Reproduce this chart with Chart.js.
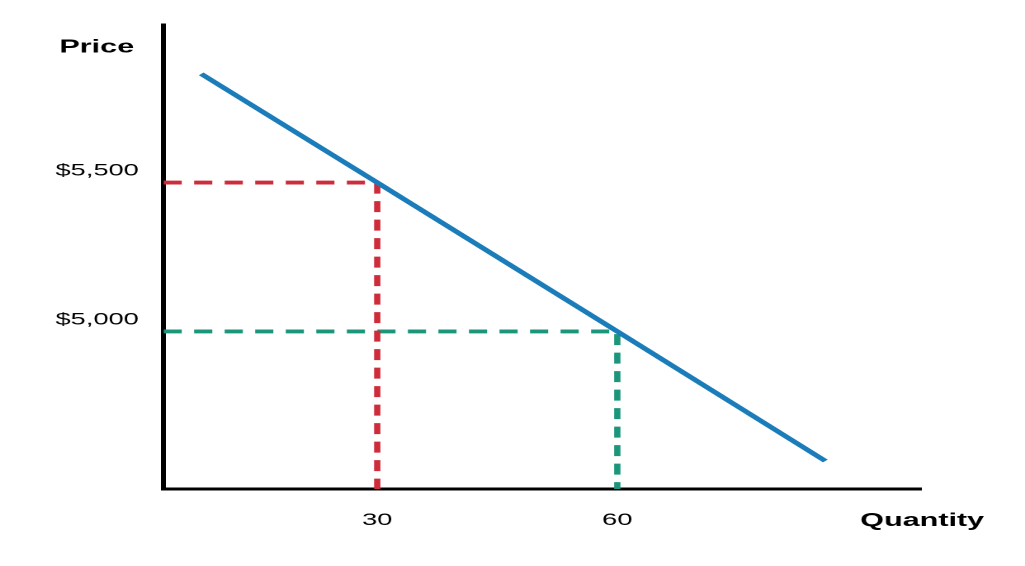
<!DOCTYPE html>
<html>
<head>
<meta charset="utf-8">
<script src="https://cdn.jsdelivr.net/npm/chart.js@4"></script>
<style>
  html, body { margin: 0; padding: 0; background: #fff; overflow: hidden; }
  /* the source picture is stretched sideways, so the whole chart is too */
  #wrap { width: 621px; height: 566px; transform: scaleX(1.6506); transform-origin: 0 0; }
</style>
</head>
<body>
<div id="wrap"><canvas id="demandChart" width="621" height="566"></canvas></div>
<script>
// demand curve
var quantity = [8, 30, 60, 86];
var price = [5865, 5500, 5000, 4565];

// the two marked points on the curve
var markedQty = [30, 60];
var markedPrice = [5500, 5000];
var guideColors = ['#cd2c3b', '#1b967a'];

// tick labels
var qtyTicks = [30, 60];
var priceTicks = [5000, 5500];

// axis ranges
var qtyMin = 3.3, qtyMax = 98;
var priceMin = 4471, priceMax = 6029;

var demand = quantity.map(function(q, i){ return {x: q, y: price[i]}; });

var datasets = [{
    label: 'Demand',
    data: demand,
    showLine: true,
    borderColor: '#1a7cb9',
    borderWidth: 4,
    pointRadius: 0,
    borderCapStyle: 'butt'
}];

// dashed guides: from the price axis across to the curve, then down
markedQty.forEach(function(q, i){
    datasets.push({
        label: 'guide' + i,
        data: [{x: qtyMin, y: markedPrice[i]}, {x: q, y: markedPrice[i]}, {x: q, y: priceMin}],
        showLine: true,
        borderColor: guideColors[i],
        borderWidth: 3.8,
        borderDash: [11, 7.5],
        pointRadius: 0,
        borderCapStyle: 'butt',
        borderJoinStyle: 'miter'
    });
});

var axisTitles = {
    id: 'axisTitles',
    afterDraw: function(chart){
        var ctx = chart.ctx, area = chart.chartArea;
        ctx.save();
        ctx.fillStyle = '#000';
        ctx.font = 'bold 18.5px "Liberation Sans", Arial, sans-serif';
        ctx.textAlign = 'center';
        ctx.textBaseline = 'middle';
        ctx.fillText('Price', area.left - 40.5, 47.5);
        ctx.fillText('Quantity', area.right + 0.5, 521);
        ctx.restore();
    }
};

var tickFont = { family: '"Liberation Sans", Arial, sans-serif', size: 16.5 };

var ctx = document.getElementById('demandChart');
var chart = new Chart(ctx, {
    type: 'scatter',
    data: { datasets: datasets },
    options: {
        responsive: false,
        animation: false,
        devicePixelRatio: 2,
        layout: { padding: { top: 25, right: 62.8, left: 0, bottom: 0 } },
        plugins: { legend: { display: false }, tooltip: { enabled: false } },
        scales: {
            x: {
                type: 'linear',
                min: qtyMin,
                max: qtyMax,
                afterBuildTicks: function(scale){
                    scale.ticks = qtyTicks.map(function(v){ return {value: v}; });
                },
                afterFit: function(scale){ scale.height = 77; },
                grid: { display: false, drawTicks: false },
                border: { display: true, color: '#000', width: 3 },
                ticks: { color: '#000', font: tickFont, padding: 21.5, maxRotation: 0 }
            },
            y: {
                type: 'linear',
                min: priceMin,
                max: priceMax,
                afterBuildTicks: function(scale){
                    scale.ticks = priceTicks.map(function(v){ return {value: v}; });
                },
                afterFit: function(scale){ scale.width = 99.1; },
                grid: { display: false, drawTicks: false },
                border: { display: true, color: '#000', width: 3 },
                ticks: {
                    color: '#000',
                    font: tickFont,
                    padding: 15,
                    labelOffset: -11.5,
                    callback: function(v){ return '$' + v.toLocaleString('en-US'); }
                }
            }
        }
    },
    plugins: [axisTitles]
});
</script>
</body>
</html>
